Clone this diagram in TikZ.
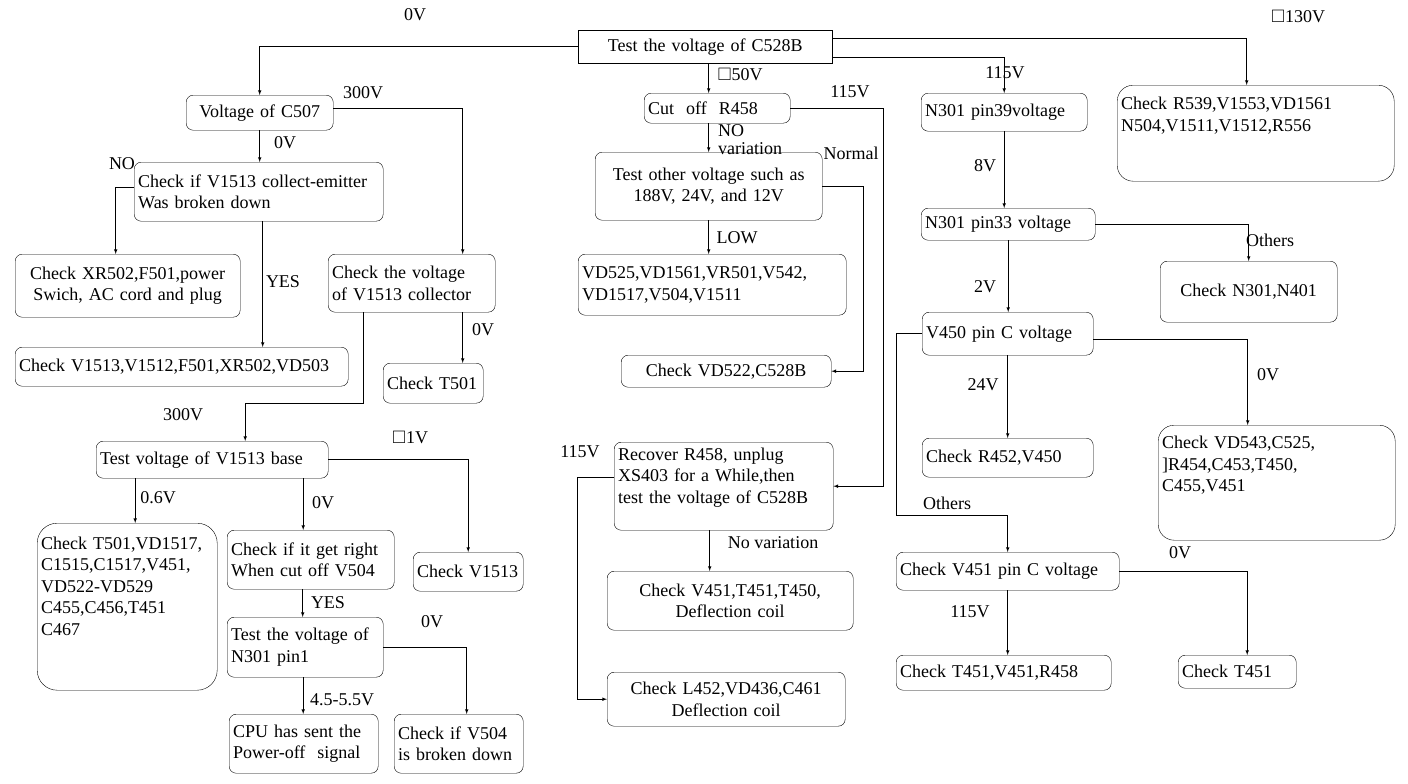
\documentclass[tikz,border=0pt]{standalone}
\usepackage{fontspec}
\setmainfont{Liberation Serif}
\usepackage{amssymb}
\usetikzlibrary{positioning}

\tikzset{
  box/.style={draw,rounded corners=7pt,inner xsep=4pt,inner ysep=2pt,font=\fontsize{18}{21.5}\selectfont},
  arr/.style={-latex,semithick},
  lbl/.style={font=\fontsize{18}{21.5}\selectfont,inner sep=0pt},
}
% box: name, x1, y1, x2, y2, align, text
\newcommand\bx[8][]{%
  \pgfmathsetmacro\bw{#5-#3-8}\pgfmathsetmacro\bh{#6-#4}%
  \node[box,#1,anchor=north west,text width=\bw pt,minimum height=\bh pt,align=#7] (#2) at (#3,#4) {#8};}
\newcommand\gap[1]{\\\rule{0pt}{#1}}

\begin{document}
\begin{tikzpicture}[x=1pt,y=-1pt]
    \useasboundingbox (0,0) rectangle (1408,784);

    % middle column
    \bx[rounded corners=0pt]{top}{578}{30}{832}{63}{center}{Test the voltage of C528B}
    \bx{cutoff}{644}{93}{790}{123}{left}{Cut\ \ off\ \ R458}
    \bx{other}{595}{152}{822}{220}{center}{Test other voltage such as\\188V, 24V, and 12V}
    \bx{vd525}{578}{254}{846}{315}{left}{VD525,VD1561,VR501,V542,\\VD1517,V504,V1511}
    \bx{vd522}{621}{355}{831}{387}{center}{Check VD522,C528B}
    \bx{recover}{614}{442}{833}{530}{left}{Recover R458, unplug\\XS403 for a While,then\\test the voltage of C528B\gap{14pt}}
    \bx{v451l}{607}{571}{853}{630}{center}{Check V451,T451,T450,\\Deflection coil}
    \bx{l452}{607}{672}{845}{726}{center}{Check L452,VD436,C461\\Deflection coil}

    % left part
    \bx{c507}{186}{95}{333}{130}{center}{Voltage of C507}
    \bx{ce}{134}{162}{383}{221}{left}{Check if V1513 collect-emitter\\Was broken down}
    \bx{xr}{15}{254}{240}{317}{center}{Check XR502,F501,power\\Swich, AC cord and plug}
    \bx{list}{15}{347}{348}{386}{left}{Check V1513,V1512,F501,XR502,VD503}
    \bx{coll}{328}{254}{495}{312}{left}{Check the voltage\\of V1513 collector}
    \bx{t501}{383}{363}{483}{403}{left}{Check T501}
    \bx{base}{96}{441}{328}{478}{left}{Test voltage of V1513 base}
    \bx[rounded corners=20pt]{tl}{37}{523}{217}{690}{left}{Check T501,VD1517,\\C1515,C1517,V451,\\VD522-VD529\\C455,C456,T451\\C467\gap{40pt}}
    \bx{gr}{227}{530}{394}{589}{left}{Check if it get right\\When cut off V504}
    \bx{chk}{413}{552}{523}{591}{left}{Check V1513}
    \bx{p1}{227}{617}{383}{677}{left}{Test the voltage of\\N301 pin1}
    \bx{cpu}{229}{714}{378}{773}{left}{CPU has sent the\\Power-off\ \ signal}
    \bx{v504}{394}{714}{523}{773}{left}{Check if V504\\is broken down}

    % right part
    \bx{p39}{921}{93}{1087}{131}{left}{N301 pin39voltage}
    \bx[rounded corners=16pt]{r539}{1117}{85}{1394}{181}{left}{Check R539,V1553,VD1561\\N504,V1511,V1512,R556\gap{34pt}}
    \bx{p33}{921}{208}{1095}{240}{left}{N301 pin33 voltage}
    \bx{n401}{1160}{261}{1337}{322}{center}{Check N301,N401}
    \bx{v450}{922}{312}{1093}{355}{left}{V450 pin C voltage}
    \bx{r452}{922}{438}{1093}{477}{left}{Check R452,V450}
    \bx[rounded corners=16pt]{vd543}{1158}{425}{1395}{540}{left}{Check VD543,C525,\\]R454,C453,T450,\\C455,V451\gap{34pt}}
    \bx{v451c}{896}{552}{1119}{590}{left}{Check V451 pin C voltage}
    \bx{t451vr}{896}{655}{1111}{690}{left}{Check T451,V451,R458}
    \bx{t451}{1178}{655}{1296}{688}{left}{Check T451}

    % connectors
    \draw[arr] (top.west) -| (c507.north);
    \draw[arr] ([yshift=8]top.east) -| ([xshift=-9]r539.north);
    \draw[arr] ([yshift=-11]top.east) -| (p39.north);
    \draw[arr] (top.south -| other.north) -- (other.north |- cutoff.north);
    \draw[arr] (other.north |- cutoff.south) -- (other.north);
    \draw[arr] (cutoff.east) -- ++(93,0) |- (recover.east);
    \draw[arr] (other.east) -- ++(41,0) |- (vd522.east);
    \draw[arr] (other.south) -- (other.south |- vd525.north);
    \draw[arr] ([yshift=9]recover.west) -- ++(-37,0) |- (l452.west);
    \draw[arr] ([xshift=-14]recover.south) -- ([xshift=-14]recover.south |- v451l.north);

    \draw[arr] (c507.south) -- (c507.south |- ce.north);
    \draw[arr] ([yshift=4]c507.east) -| ([xshift=51]coll.north);
    \draw[arr] ([yshift=4]ce.west) -| ([xshift=-12]xr.north);
    \draw[arr] ([xshift=4]ce.south) -- ([xshift=4]ce.south |- list.north);
    \draw[arr] ([xshift=51]coll.south) -- ([xshift=51]coll.south |- t501.north);
    \draw[arr] ([xshift=-48]coll.south) -- ++(0,91) -| ([xshift=33]base.north);
    \draw[arr] ([xshift=-77]base.south) -- ([xshift=-77]base.south |- tl.north);
    \draw[arr] ([xshift=91]base.south) -- ([xshift=91]base.south |- gr.north);
    \draw[arr] (base.east) -| (chk.north);
    \draw[arr] ([xshift=-8]gr.south) -- ([xshift=-8]gr.south |- p1.north);
    \draw[arr] ([xshift=-2]p1.south) -- ([xshift=-2]p1.south |- cpu.north);
    \draw[arr] (p1.east) -| ([xshift=8]v504.north);

    \draw[arr] (p39.south) -- (p39.south |- p33.north);
    \draw[arr] (p33.east) -| (n401.north);
    \draw[arr] (p33.south) -- (p33.south |- v450.north);
    \draw[arr] (v450.south) -- (v450.south |- r452.north);
    \draw[arr] ([yshift=-6]v450.east) -| ([xshift=-29]vd543.north);
    \draw[arr] (v450.west) -- ++(-26,0) -- ++(0,182) -| (v451c.north);
    \draw[arr] (v451c.south) -- (v451c.south |- t451vr.north);
    \draw[arr] (v451c.east) -| ([xshift=10]t451.north);

    % labels
    \node[lbl] (l0a) at (415,15) {0V};
    \node[lbl] (l130) at (1298,17) {$\square$130V};
    \node[lbl] (l115a) at (1005,73) {115V};
    \node[lbl] (l50) at (740,75) {$\square$50V};
    \node[lbl] (l115b) at (850,92) {115V};
    \node[lbl,align=left,anchor=north west] (lno) at (718,124) {NO\\[-3pt]variation};
    \node[lbl] (lnorm) at (851,153) {Normal};
    \node[lbl] (llow) at (737,238) {LOW};
    \node[lbl] (l115c) at (580,452) {115V};
    \node[lbl] (lnov) at (773,543) {No variation};

    \node[lbl] (l300a) at (363,93) {300V};
    \node[lbl] (l0b) at (285,143) {0V};
    \node[lbl] (lnoa) at (122,164) {NO};
    \node[lbl] (lyes) at (283,282) {YES};
    \node[lbl] (l0c) at (483,330) {0V};
    \node[lbl] (l300b) at (183,415) {300V};
    \node[lbl] (l1v) at (410,438) {$\square$1V};
    \node[lbl] (l06) at (158,498) {0.6V};
    \node[lbl] (l0d) at (323,503) {0V};
    \node[lbl] (lyes2) at (328,603) {YES};
    \node[lbl] (l0e) at (432,622) {0V};
    \node[lbl] (l45) at (342,700) {4.5-5.5V};

    \node[lbl] (l8) at (985,166) {8V};
    \node[lbl] (loth) at (1270,240) {Others};
    \node[lbl] (l2) at (985,287) {2V};
    \node[lbl] (l24) at (983,385) {24V};
    \node[lbl] (l0f) at (1268,375) {0V};
    \node[lbl] (loth2) at (947,503) {Others};
    \node[lbl] (l0g) at (1180,553) {0V};
    \node[lbl] (l115d) at (970,612) {115V};
\end{tikzpicture}
\end{document}
